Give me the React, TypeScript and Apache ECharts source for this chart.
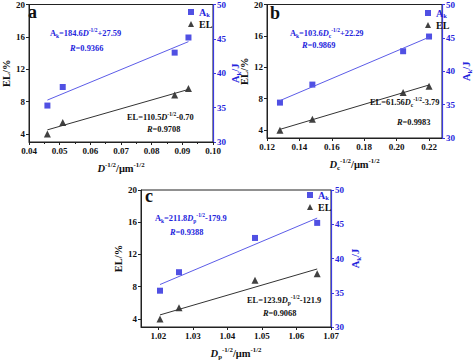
import React, { useEffect, useRef } from "react";
import * as echarts from "echarts";

// ---- data ----
const elValues = [4.0, 5.4, 8.8, 9.6];
const akValues = [35.3, 38.0, 43.0, 45.2];
const xA = [0.046, 0.051, 0.0875, 0.092];
const xB = [0.128, 0.148, 0.204, 0.220];
const xC = [1.0205, 1.026, 1.048, 1.066];

const fitXA = [0.046, 0.092];
const fitAkA = [36.1, 44.6];
const fitElA = [4.5, 9.5];
const fitXB = [0.128, 0.220];
const fitAkB = [35.6, 45.1];
const fitElB = [4.1, 9.75];
const fitXC = [1.0205, 1.066];
const fitAkC = [36.2, 45.9];
const fitElC = [4.5, 10.2];

const elTicks = [4, 8, 12, 16, 20];
const xTicksB = [0.12, 0.14, 0.16, 0.18, 0.2, 0.22];
const xTicksC = [1.02, 1.03, 1.04, 1.05, 1.06, 1.07];

const SERIF = "'Liberation Serif', 'Times New Roman', serif";
const BLUE = "#2424dc";
const LINEBLUE = "#5c5ce8";
const AXBLUE = "#3a3ae0";

function richStyles(color: string, size = 10) {
  const base = { fontFamily: SERIF, fontWeight: "bold", color };
  const lh = Math.round(size * 1.35);
  return {
    t: { ...base, fontSize: size, lineHeight: lh },
    i: { ...base, fontSize: size, lineHeight: lh, fontStyle: "italic" },
    sup: { ...base, fontSize: size * 0.65, lineHeight: Math.round(lh * 0.55), verticalAlign: "top" },
    sub: { ...base, fontSize: size * 0.65, lineHeight: Math.round(lh * 0.55), verticalAlign: "bottom" },
  };
}

const zip = (xs: number[], ys: number[]) => xs.map((x, i) => [x, ys[i]]);

function panelAxes(
  gi: number,
  xmin: number,
  xmax: number,
  xinterval: number,
  xName: string,
  rightGap: number,
  leftGap: number,
  xCustom?: number[]
) {
  const xAxis: any = {
    type: "value",
    gridIndex: gi,
    min: xmin,
    max: xmax,
    interval: xinterval,
    name: xName,
    nameLocation: "middle",
    nameGap: 19,
    nameTextStyle: { rich: richStyles("#111", 10.5) },
    axisLine: { lineStyle: { color: "#222", width: 1 } },
    axisTick: { length: 3, lineStyle: { color: "#222" } },
    minorTick: { show: !xCustom, splitNumber: 2, length: 2, lineStyle: { color: "#222" } },
    splitLine: { show: false },
    axisLabel: {
      fontFamily: SERIF,
      fontWeight: "bold",
      fontSize: 9,
      color: "#111",
      margin: 4,
      formatter: (v: number) => v.toFixed(2),
    },
  };
  if (xCustom) {
    delete xAxis.interval;
    xAxis.axisLabel.customValues = xCustom;
    xAxis.axisTick.customValues = xCustom;
  }
  const yLeft: any = {
    type: "value",
    gridIndex: gi,
    position: "left",
    min: 3,
    max: 20,
    name: "EL/%",
    nameLocation: "middle",
    nameRotate: 90,
    nameGap: leftGap,
    nameTextStyle: { fontFamily: SERIF, fontWeight: "bold", fontSize: 10.5, color: "#111" },
    axisLine: { show: true, lineStyle: { color: "#222" } },
    axisTick: { show: true, length: 3, customValues: elTicks, lineStyle: { color: "#222" } },
    splitLine: { show: false },
    axisLabel: {
      customValues: elTicks,
      fontFamily: SERIF,
      fontWeight: "bold",
      fontSize: 9,
      color: "#111",
      margin: 4,
    },
  };
  const yRight: any = {
    type: "value",
    gridIndex: gi,
    position: "right",
    min: 30,
    max: 50,
    interval: 5,
    name: "{t|A}{sub|k}{t|/J}",
    nameLocation: "middle",
    nameRotate: 90,
    nameGap: rightGap,
    nameTextStyle: { rich: richStyles(BLUE, 10.5) },
    axisLine: { show: true, lineStyle: { color: AXBLUE, width: 1.2 } },
    axisTick: { show: true, length: 3, lineStyle: { color: AXBLUE } },
    splitLine: { show: false },
    axisLabel: {
      fontFamily: SERIF,
      fontWeight: "bold",
      fontSize: 9,
      color: BLUE,
      margin: 4,
    },
  };
  return { xAxis, yLeft, yRight };
}

function panelSeries(gi: number, xs: number[], fx: number[], fAk: number[], fEl: number[]) {
  return [
    {
      type: "line",
      name: "fitAk" + gi,
      xAxisIndex: gi,
      yAxisIndex: gi * 2 + 1,
      data: zip(fx, fAk),
      symbol: "none",
      lineStyle: { color: LINEBLUE, width: 1 },
    },
    {
      type: "line",
      name: "fitEl" + gi,
      xAxisIndex: gi,
      yAxisIndex: gi * 2,
      data: zip(fx, fEl),
      symbol: "none",
      lineStyle: { color: "#333", width: 1 },
    },
    {
      type: "scatter",
      name: "Ak",
      xAxisIndex: gi,
      yAxisIndex: gi * 2 + 1,
      data: zip(xs, akValues),
      symbol: "rect",
      symbolSize: 6,
      itemStyle: { color: BLUE },
    },
    {
      type: "scatter",
      name: "EL",
      xAxisIndex: gi,
      yAxisIndex: gi * 2,
      data: zip(xs, elValues),
      symbol: "triangle",
      symbolSize: 7,
      itemStyle: { color: "#111" },
    },
  ];
}

function legendAt(left: number, top: number) {
  return {
    left,
    top,
    orient: "vertical",
    itemWidth: 6,
    itemHeight: 6,
    itemGap: 1,
    selectedMode: false,
    padding: 0,
    formatter: (n: string) => (n === "Ak" ? "{t|A}{sub|k}" : "{k|EL}"),
    textStyle: {
      rich: {
        t: { fontFamily: SERIF, fontWeight: "bold", fontSize: 10, color: BLUE, lineHeight: 12 },
        sub: { fontFamily: SERIF, fontWeight: "bold", fontSize: 6.5, color: BLUE, lineHeight: 7, verticalAlign: "bottom" },
        k: { fontFamily: SERIF, fontWeight: "bold", fontSize: 10, color: "#111", lineHeight: 12 },
      },
    },
    data: [
      { name: "Ak", icon: "rect" },
      { name: "EL", icon: "triangle" },
    ],
  };
}

function txt(x: number, y: number, text: string, color: string, size = 8.4) {
  return {
    type: "text",
    x,
    y,
    z: 100,
    style: {
      text,
      rich: richStyles(color, size),
      align: "left",
      verticalAlign: "middle",
      fill: color,
    },
  };
}

function letter(x: number, y: number, s: string) {
  return {
    type: "text",
    x,
    y,
    z: 100,
    style: {
      text: s,
      fontFamily: SERIF,
      fontWeight: "bold",
      fontSize: 18,
      fill: "#111",
      align: "left",
      verticalAlign: "middle",
    },
  };
}

export default function App() {
  const ref = useRef<HTMLDivElement>(null);
  useEffect(() => {
    if (!ref.current) return;
    const chart = echarts.init(ref.current, null, { renderer: "svg" });
    const a = panelAxes(0, 0.04, 0.1, 0.01, "{i|D}{sup|-1/2}{t|/μm}{sup|-1/2}", 14, 17);
    const b = panelAxes(1, 0.12, 0.228, 0.02, "{i|D}{sub|c}{sup|-1/2}{t|/μm}{sup|-1/2}", 17, 14, xTicksB);
    const c = panelAxes(2, 1.015, 1.07, 0.01, "{i|D}{sub|p}{sup|-1/2}{t|/μm}{sup|-1/2}", 17, 17, xTicksC);
    const gridBase = { show: true, borderColor: "#222", borderWidth: 1, backgroundColor: "transparent" };
    chart.setOption({
      animation: false,
      backgroundColor: "#fff",
      grid: [
        { ...gridBase, left: 25, top: 3, width: 188, height: 139 },
        { ...gridBase, left: 267, top: 2, width: 183, height: 136 },
        { ...gridBase, left: 141, top: 190, width: 190, height: 138 },
      ],
      xAxis: [a.xAxis, b.xAxis, c.xAxis],
      yAxis: [a.yLeft, a.yRight, b.yLeft, b.yRight, c.yLeft, c.yRight],
      legend: [legendAt(188, 7), legendAt(425, 8), legendAt(307, 190)],
      series: [
        ...panelSeries(0, xA, fitXA, fitAkA, fitElA),
        ...panelSeries(1, xB, fitXB, fitAkB, fitElB),
        ...panelSeries(2, xC, fitXC, fitAkC, fitElC),
      ],
      graphic: [
        letter(28, 12, "a"),
        letter(270, 13, "b"),
        letter(145, 196, "c"),
        txt(50, 33, "{t|A}{sub|k}{t|=184.6}{i|D}{sup|-1/2}{t|+27.59}", BLUE),
        txt(70, 48, "{i|R}{t|=0.9366}", BLUE),
        txt(127, 117, "{t|EL=110.5}{i|D}{sup|-1/2}{t|-0.70}", "#111"),
        txt(147, 129, "{i|R}{t|=0.9708}", "#111"),
        txt(290, 33, "{t|A}{sub|k}{t|=103.6}{i|D}{sub|c}{sup|-1/2}{t|+22.29}", BLUE),
        txt(302, 45, "{i|R}{t|=0.9869}", BLUE),
        txt(370, 102, "{t|EL=61.56}{i|D}{sub|c}{sup|-1/2}{t|-3.79}", "#111"),
        txt(397, 122, "{i|R}{t|=0.9983}", "#111"),
        txt(155, 218, "{t|A}{sub|k}{t|=211.8}{i|D}{sub|p}{sup|-1/2}{t|-179.9}", BLUE),
        txt(170, 232, "{i|R}{t|=0.9388}", BLUE),
        txt(247, 300, "{t|EL=123.9}{i|D}{sub|p}{sup|-1/2}{t|-121.9}", "#111"),
        txt(263, 313, "{i|R}{t|=0.9068}", "#111"),
      ],
    });
    return () => chart.dispose();
  }, []);
  return (
    <div
      ref={ref}
      style={{ position: "fixed", left: 0, top: 0, width: 474, height: 361, background: "#fff" }}
    />
  );
}
